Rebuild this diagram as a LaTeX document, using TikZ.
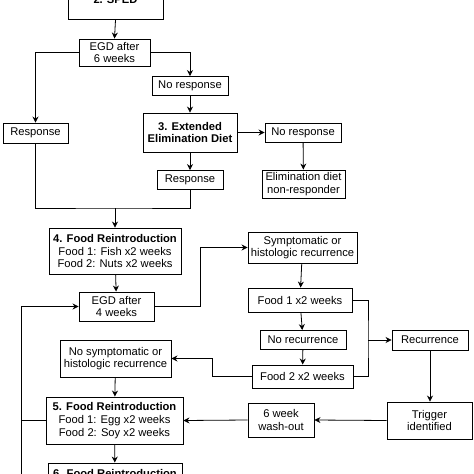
\documentclass[tikz,border=0pt]{standalone}
\usepackage{fontspec}
\setmainfont{Liberation Sans}
\usetikzlibrary{arrows.meta}
\tikzset{
  box/.style={draw, line width=0.9pt, inner sep=0pt, align=center,
    font=\fontsize{11.2}{12.8}\selectfont},
  conn/.style={line width=0.8pt},
  arr/.style={conn, -{Stealth[length=6pt,width=6pt]}},
  lbl/.style={inner sep=0pt, font=\fontsize{11.2}{12.8}\selectfont}
}
\begin{document}
\begin{tikzpicture}[x=1pt,y=-1pt]
\useasboundingbox (0,0) rectangle (474,474);
\clip (0,0) rectangle (474,474);
\fill[white] (0,0) rectangle (474,474);
% nodes
\node[box, minimum width=95pt, minimum height=39pt] (sped) at (115.5,0) {\textbf{2. SPED}};
\node[box, minimum width=71pt, minimum height=27pt] (egd6) at (114.5,52.5) {EGD after\\6 weeks};
\node[box, minimum width=65pt, minimum height=20pt] (resp1) at (35.5,133) {Response};
\node[box, minimum width=76pt, minimum height=19pt] (noresp1) at (190,86) {No response};
\node[box, minimum width=94pt, minimum height=39pt] (ext) at (190,132.5) {\textbf{3. Extended}\\\textbf{Elimination Diet}};
\node[box, minimum width=76pt, minimum height=19pt] (noresp2) at (303,132.5) {No response};
\node[box, minimum width=83pt, minimum height=28pt] (nonresp) at (303.5,184) {Elimination diet\\non-responder};
\node[box, minimum width=66pt, minimum height=19pt] (resp2) at (190,180) {Response};
\node[box, minimum width=132pt, minimum height=46pt] (food4) at (115,251) {\textbf{4. Food Reintroduction}\\Food 1: Fish x2 weeks\\Food 2: Nuts x2 weeks};
\node[box, minimum width=75pt, minimum height=29pt] (egd4) at (116.5,306.5) {EGD after\\4 weeks};
\node[box, minimum width=109pt, minimum height=31pt] (symp) at (302.5,247.5) {Symptomatic or\\histologic recurrence};
\node[box, minimum width=104pt, minimum height=24pt] (f1) at (300,300) {Food 1 x2 weeks};
\node[box, minimum width=86pt, minimum height=19pt] (norec) at (303,340) {No recurrence};
\node[box, minimum width=101pt, minimum height=23pt] (f2) at (302.5,376.5) {Food 2 x2 weeks};
\node[box, minimum width=76pt, minimum height=20pt] (rec) at (430,340) {Recurrence};
\node[box, minimum width=85pt, minimum height=37pt] (trig) at (429.5,420.5) {Trigger\\identified};
\node[box, minimum width=66pt, minimum height=34pt] (wash) at (281,420) {6 week\\wash-out};
\node[box, minimum width=111pt, minimum height=37pt] (nosymp) at (115.5,358.5) {No symptomatic or\\histologic recurrence};
\node[box, minimum width=137pt, minimum height=47pt] (food5) at (114.5,420.5) {\textbf{5. Food Reintroduction}\\Food 1: Egg x2 weeks\\Food 2: Soy x2 weeks};
\node[box, minimum width=134pt, minimum height=47pt] (food6) at (115,486.5) {};
\node[lbl, anchor=base] (food6t) at (115,477.7) {\textbf{6. Food Reintroduction}};
% coordinates
\coordinate (j1) at (115,208);
\coordinate (b1) at (200,247.5);
\coordinate (b2) at (368,340);
\coordinate (b3) at (212,358.5);
\coordinate (b4) at (21,490);
\coordinate (b5) at (21,420.5);
% connectors
\draw[arr] (sped.south) -- (egd6.north);
\draw[arr] (egd6.west) -| (resp1.north);
\draw[arr] (egd6.east) -| (noresp1.north);
\draw[arr] (noresp1) -- (ext);
\draw[arr] (ext.east) -- (noresp2.west);
\draw[arr] (noresp2) -- (nonresp);
\draw[arr] (ext) -- (resp2);
\draw[conn] (resp1.south) |- (j1) -| (resp2.south);
\draw[arr] (j1) -- (food4.north);
\draw[arr] (food4) -- (egd4);
\draw[arr] (egd4.east) -| (b1) -- (symp.west);
\draw[arr] (symp) -- (f1);
\draw[arr] (f1) -- (norec);
\draw[arr] (norec) -- (f2);
\draw[conn] (f1.east) -| (b2) |- (f2.east);
\draw[arr] (b2) -- (rec.west);
\draw[arr] (rec.south) -- (rec.south |- trig.north);
\draw[arr] (trig.west) -- (wash.east);
\draw[arr] (wash.west) -- (food5.east);
\draw[arr] (f2.west) -| (b3) -- (nosymp.east);
\draw[arr] (nosymp) -- (food5);
\draw[arr] (food5) -- (food6);
\draw[arr] (b4) |- (egd4.west);
\draw[conn] (food5.west) -- (b5);
\end{tikzpicture}
\end{document}
